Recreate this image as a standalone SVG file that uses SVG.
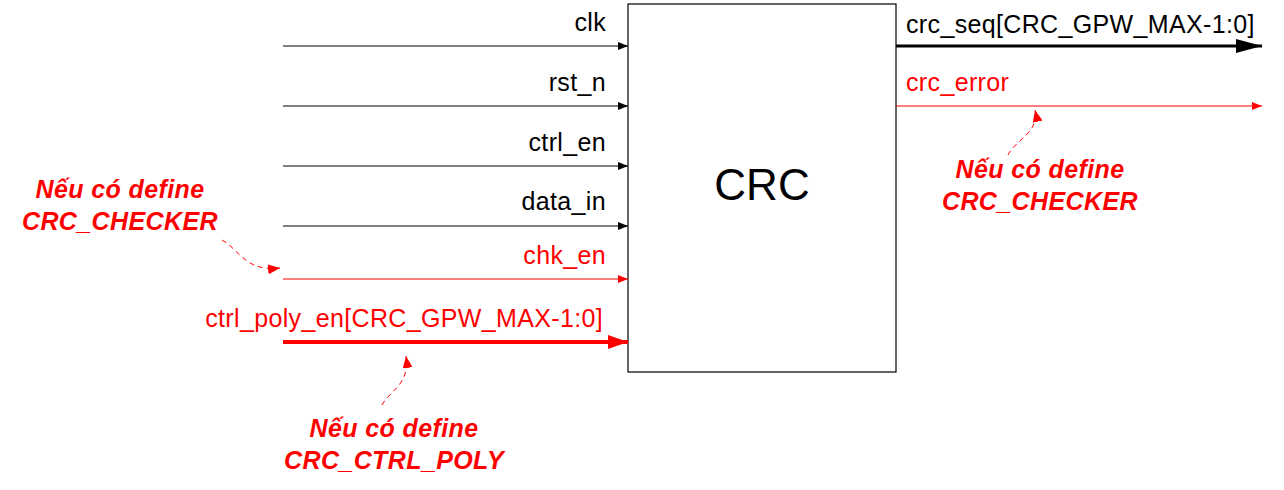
<svg xmlns="http://www.w3.org/2000/svg" width="1284" height="490" viewBox="0 0 1284 490">
<style>
.t{font-family:"Liberation Sans",Arial,sans-serif;font-size:25px;letter-spacing:0.35px}
.k{fill:#000}.r{fill:#ff0000}
.n{font-family:"Liberation Sans",Arial,sans-serif;font-size:25px;letter-spacing:0.4px;font-weight:bold;font-style:italic;fill:#ff0000;text-anchor:middle}
.e{text-anchor:end}
</style>
<defs>
<marker id="ak" markerWidth="10" markerHeight="8" refX="10" refY="4" orient="auto" markerUnits="userSpaceOnUse"><path d="M0,0L10,4L0,8z" fill="#000"/></marker>
<marker id="ar" markerWidth="10" markerHeight="8" refX="10" refY="4" orient="auto" markerUnits="userSpaceOnUse"><path d="M0,0L10,4L0,8z" fill="#ff0000"/></marker>
<marker id="akb" markerWidth="26" markerHeight="14" refX="26" refY="7" orient="auto" markerUnits="userSpaceOnUse"><path d="M0,0L26,7L0,14z" fill="#000"/></marker>
<marker id="arb" markerWidth="20" markerHeight="14" refX="20" refY="7" orient="auto" markerUnits="userSpaceOnUse"><path d="M0,0L20,7L0,14z" fill="#ff0000"/></marker>
<marker id="ard" markerWidth="12" markerHeight="10" refX="12" refY="5" orient="auto" markerUnits="userSpaceOnUse"><path d="M0,0L12,5L0,10z" fill="#ff0000"/></marker>
</defs>
<g id="crc"><rect x="628" y="4" width="268" height="368" fill="#fff" stroke="#000" stroke-width="1.2"/><text x="762" y="200" text-anchor="middle" style="font-family:'Liberation Sans',Arial,sans-serif;font-size:44px;fill:#000">CRC</text></g>
<g id="connectors" fill="none">
<line x1="283" y1="46" x2="628" y2="46" stroke="#000" marker-end="url(#ak)"/>
<line x1="283" y1="106" x2="628" y2="106" stroke="#000" marker-end="url(#ak)"/>
<line x1="283" y1="166" x2="628" y2="166" stroke="#000" marker-end="url(#ak)"/>
<line x1="283" y1="226" x2="628" y2="226" stroke="#000" marker-end="url(#ak)"/>
<line x1="283" y1="279" x2="628" y2="279" stroke="#ff0000" marker-end="url(#ar)"/>
<line x1="283" y1="342" x2="628" y2="342" stroke="#ff0000" stroke-width="4" marker-end="url(#arb)"/>
<line x1="896" y1="46" x2="1262" y2="46" stroke="#000" stroke-width="3" marker-end="url(#akb)"/>
<line x1="896" y1="106" x2="1262" y2="106" stroke="#ff0000" marker-end="url(#ar)"/>
<path d="M222,240C240,250 245,272 280,268" stroke="#ff0000" stroke-dasharray="5,4" marker-end="url(#ard)"/>
<path d="M382,405C390,390 410,385 406,356" stroke="#ff0000" stroke-dasharray="5,4" marker-end="url(#ard)"/>
<path d="M1008,155C1015,140 1040,132 1035,110" stroke="#ff0000" stroke-dasharray="5,4" marker-end="url(#ard)"/>
</g>
<g id="labels">
<text x="606" y="31" class="t k e">clk</text>
<text x="606" y="91" class="t k e">rst_n</text>
<text x="606" y="151" class="t k e">ctrl_en</text>
<text x="606" y="210" class="t k e">data_in</text>
<text x="606" y="264" class="t r e">chk_en</text>
<text x="603" y="327" class="t r e">ctrl_poly_en[CRC_GPW_MAX-1:0]</text>
<text x="906" y="33" class="t k">crc_seq[CRC_GPW_MAX-1:0]</text>
<text x="906" y="91" class="t r">crc_error</text>
<text x="120" y="198" class="n">Nếu có define</text>
<text x="120" y="230" class="n">CRC_CHECKER</text>
<text x="1040" y="178" class="n">Nếu có define</text>
<text x="1040" y="210" class="n">CRC_CHECKER</text>
<text x="394" y="437" class="n">Nếu có define</text>
<text x="394" y="469" class="n">CRC_CTRL_POLY</text>
</g>
</svg>
